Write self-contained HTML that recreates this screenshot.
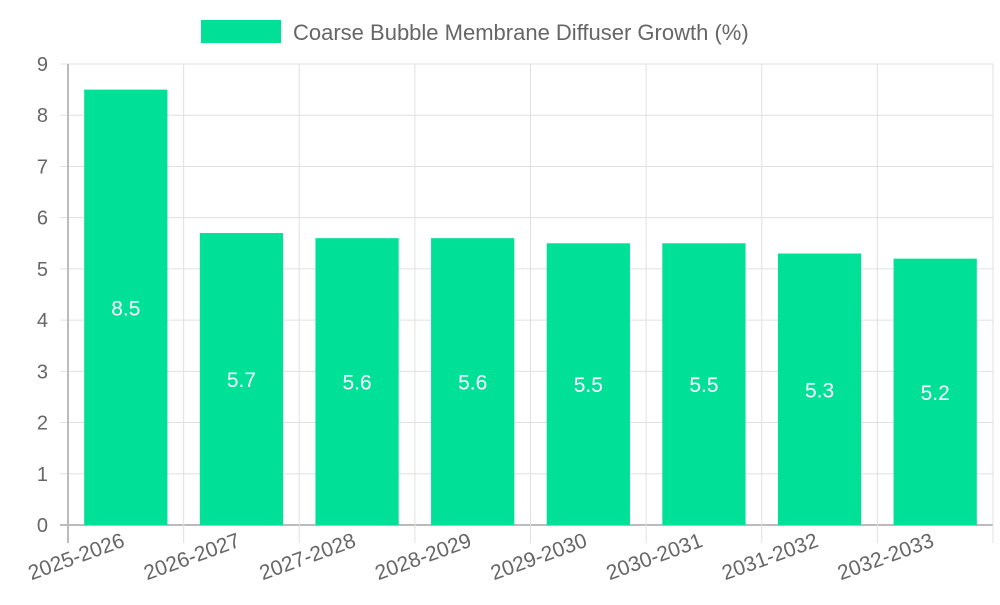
<!DOCTYPE html>
<html><head><meta charset="utf-8"><style>
body{margin:0;background:#fff}
text{font-family:"Liberation Sans",sans-serif}
</style></head><body>
<svg id="c" width="1000" height="600">
<g>
<rect x="201" y="20" width="80" height="23" fill="#00e096"/>
<text x="293" y="40" font-size="22" fill="#666">Coarse Bubble Membrane Diffuser Growth (%)</text>
</g>
<g id="grid"></g><g id="bars"></g><g id="labels"></g>
</svg>
<script>
const categories=["2025-2026","2026-2027","2027-2028","2028-2029","2029-2030","2030-2031","2031-2032","2032-2033"];
const growthValues=[8.5,5.7,5.6,5.6,5.5,5.5,5.3,5.2];
const yTicks=[0,1,2,3,4,5,6,7,8,9];
const X0=68,X1=993,Y0=525,Y1=64,YMAX=9;
const bw=(X1-X0)/categories.length;
const y=v=>Y0-(Y0-Y1)*v/YMAX;
const xc=i=>X0+bw*(i+0.5);
const NS="http://www.w3.org/2000/svg";
function mk(t,a,p){const e=document.createElementNS(NS,t);for(const k in a)e.setAttribute(k,a[k]);p.appendChild(e);return e;}
const g=document.getElementById('grid'),b=document.getElementById('bars'),l=document.getElementById('labels');
yTicks.forEach(t=>{
 const ln=mk('line',{x1:X0-8,x2:X1,y1:y(t),y2:y(t),stroke:t===0?'#bbb':'#e0e0e0','stroke-width':t===0?2:1},g);
 
 
 const tx=mk('text',{x:X0-20,y:y(t)+7,'text-anchor':'end','font-size':20,fill:'#666'},g);
 tx.textContent=t;
 
 
});
for(let i=0;i<=categories.length;i++){
 const ln=mk('line',{x1:X0+bw*i,x2:X0+bw*i,y1:Y1,y2:Y0+18,stroke:i===0?'#bbb':'#e0e0e0','stroke-width':i===0?2:1},g);
 
 
}
categories.forEach((c,i)=>{
 const v=growthValues[i],w=bw*0.72;
 const r=mk('rect',{x:xc(i)-w/2,y:y(v),width:w,height:Y0-y(v),fill:'#00e096'},b);
 
 
 const vt=mk('text',{x:xc(i),y:(y(v)+Y0)/2+8,'text-anchor':'middle','font-size':21,fill:'#fff'},l);
 vt.textContent=v;
 
 
 const xt=mk('text',{x:xc(i),y:546,'text-anchor':'end','font-size':21,fill:'#666',transform:`rotate(-20 ${xc(i)} 546)`},l);
 xt.textContent=c;
 
 
});
</script>
</body></html>
